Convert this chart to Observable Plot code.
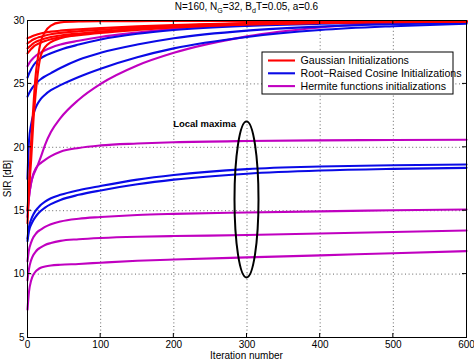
<!DOCTYPE html>
<html>
<head>
<meta charset="utf-8">
<script src="https://cdn.jsdelivr.net/npm/d3@7"></script>
<script src="https://cdn.jsdelivr.net/npm/@observablehq/plot@0.6"></script>
<style>
  html, body { margin: 0; padding: 0; background: #fff; }
  #chart { width: 474px; height: 361px; }
</style>
</head>
<body>
<div id="chart"></div>
<script>
// ---------- data ----------
const iters = [0, 2, 5, 8, 11, 14, 18, 24, 32, 45, 70, 100, 150, 200, 300, 400, 500, 600];

// Gaussian initializations (red)
const gauss1 = [15.0, 17.0, 20.5, 23.2, 25.6, 27.0, 28.3, 29.1, 29.6, 29.85, 29.92, 29.94, 29.95, 29.96, 29.96, 29.96, 29.96, 29.96];
const gauss2 = [14.0, 16.5, 19.0, 22.0, 24.1, 25.8, 27.2, 27.9, 28.3, 28.6, 28.9, 29.1, 29.35, 29.55, 29.75, 29.85, 29.9, 29.93];
const gauss3 = [28.6, 28.65, 28.72, 28.8, 28.86, 28.92, 28.98, 29.05, 29.12, 29.2, 29.3, 29.4, 29.55, 29.65, 29.8, 29.88, 29.92, 29.94];
const gauss4 = [28.2, 28.28, 28.4, 28.5, 28.58, 28.65, 28.72, 28.82, 28.92, 29.02, 29.15, 29.28, 29.45, 29.58, 29.75, 29.85, 29.9, 29.93];
const gauss5 = [27.8, 27.9, 28.05, 28.2, 28.3, 28.38, 28.47, 28.58, 28.7, 28.82, 28.98, 29.12, 29.35, 29.5, 29.7, 29.82, 29.88, 29.92];
const gauss6 = [27.4, 27.55, 27.75, 27.92, 28.05, 28.15, 28.25, 28.38, 28.52, 28.68, 28.85, 29.02, 29.25, 29.45, 29.68, 29.8, 29.87, 29.91];

// Root-raised cosine initializations (blue)
const rrc1 = [25.5, 25.8, 26.15, 26.45, 26.68, 26.85, 27.02, 27.22, 27.42, 27.7, 28.1, 28.5, 28.95, 29.25, 29.58, 29.74, 29.82, 29.86];
const rrc2 = [24.0, 24.25, 24.55, 24.8, 25.0, 25.17, 25.37, 25.6, 25.85, 26.25, 26.9, 27.45, 28.1, 28.6, 29.2, 29.52, 29.7, 29.8];
const rrc3 = [17.5, 20.5, 21.8, 22.6, 23.1, 23.45, 23.8, 24.15, 24.5, 24.9, 25.55, 26.2, 27.1, 27.8, 28.7, 29.25, 29.55, 29.75];
const rrc4 = [12.8, 13.7, 14.3, 14.7, 14.98, 15.2, 15.45, 15.72, 15.98, 16.25, 16.62, 16.95, 17.45, 17.82, 18.28, 18.48, 18.58, 18.64];
const rrc5 = [12.6, 13.4, 13.9, 14.25, 14.52, 14.74, 14.98, 15.25, 15.52, 15.85, 16.25, 16.6, 17.08, 17.45, 17.92, 18.17, 18.3, 18.38];

// Hermite functions initializations (magenta)
const herm1 = [26.4, 26.6, 26.85, 27.05, 27.2, 27.33, 27.47, 27.65, 27.85, 28.1, 28.4, 28.7, 29.05, 29.35, 29.65, 29.8, 29.87, 29.9];
const herm2 = [15.0, 16.1, 17.2, 17.8, 18.2, 18.6, 19.2, 20.2, 21.2, 22.3, 23.75, 25.0, 26.45, 27.45, 28.75, 29.45, 29.8, 29.93];
const herm3 = [14.5, 16.0, 17.2, 17.9, 18.3, 18.55, 18.75, 19.0, 19.3, 19.65, 19.95, 20.15, 20.3, 20.4, 20.5, 20.55, 20.58, 20.6];
const herm4 = [11.0, 11.9, 12.5, 12.9, 13.15, 13.35, 13.5, 13.72, 13.93, 14.15, 14.37, 14.5, 14.66, 14.75, 14.86, 14.95, 15.03, 15.1];
const herm5 = [9.5, 10.4, 11.1, 11.5, 11.75, 11.95, 12.1, 12.3, 12.45, 12.62, 12.75, 12.85, 12.95, 13.0, 13.08, 13.2, 13.32, 13.44];
const herm6 = [7.2, 8.6, 9.5, 9.95, 10.2, 10.35, 10.5, 10.6, 10.68, 10.74, 10.8, 10.9, 11.05, 11.15, 11.32, 11.48, 11.65, 11.81];

const groups = ["Gaussian Initializations", "Root\u2212Raised Cosine Initializations", "Hermite functions initializations"];
const groupColors = ["#ff0000", "#0a0ae6", "#c000c0"];

const xTicks = [0, 100, 200, 300, 400, 500, 600];
const yTicks = [5, 10, 15, 20, 25, 30];

const annotationText = ["Local maxima"];
const annotationPos = [242, 21.85];          // iteration, dB
const ellipseCenter = [300, 15.85];          // iteration, dB
const ellipseRadii = [16.4, 6.15];           // iterations, dB

// ---------- build table ----------
const seriesList = [
  ...[herm1, herm2, herm3, herm4, herm5, herm6].map((v, i) => ({id: "h" + i, group: groups[2], v})),
  ...[rrc1, rrc2, rrc3, rrc4, rrc5].map((v, i) => ({id: "b" + i, group: groups[1], v})),
  ...[gauss3, gauss4, gauss5, gauss6, gauss2, gauss1].map((v, i) => ({id: "g" + i, group: groups[0], v}))
];
const rows = seriesList.flatMap(s => s.v.map((y, j) => ({id: s.id, group: s.group, iter: iters[j], sir: y})));

const font = "Liberation Sans, Arial, Helvetica, sans-serif";
const W = 474, H = 361;

const chart = Plot.plot({
  width: W,
  height: H,
  marginLeft: 27,
  marginRight: 8,
  marginTop: 20,
  marginBottom: 24,
  style: {fontFamily: font, fontSize: "10px", color: "#000", background: "#fff"},
  x: {domain: [0, 600]},
  y: {domain: [5, 30]},
  color: {domain: groups, range: groupColors},
  marks: [
    Plot.gridX(xTicks.slice(1, -1), {stroke: "#666", strokeOpacity: 1, strokeDasharray: "1,2.6", strokeWidth: 1}),
    Plot.gridY(yTicks.slice(1, -1), {stroke: "#666", strokeOpacity: 1, strokeDasharray: "1,2.6", strokeWidth: 1}),
    Plot.line(rows, {x: "iter", y: "sir", z: "id", stroke: "group", strokeWidth: 2.1, curve: "monotone-x"}),
    Plot.axisX({ticks: xTicks, tickSize: 0, tickPadding: 3, label: null}),
    Plot.axisY({ticks: yTicks, tickSize: 0, tickPadding: 3, label: null}),
    Plot.text(annotationText, {x: annotationPos[0], y: annotationPos[1], text: d => d, fontWeight: "bold", fontSize: 9.5, textAnchor: "middle"}),
    Plot.frame({stroke: "#000", strokeWidth: 1})
  ]
});

document.getElementById("chart").appendChild(chart);

const svg = d3.select(chart);
const xs = chart.scale("x"), ys = chart.scale("y");
const x0 = xs.apply(0), x1 = xs.apply(600), y0 = ys.apply(5), y1 = ys.apply(30);

// inward ticks (Matlab style) on all four sides
const tk = svg.append("g").attr("stroke", "#000").attr("stroke-width", 1);
xTicks.slice(1, -1).forEach(t => {
  const px = xs.apply(t);
  tk.append("line").attr("x1", px).attr("x2", px).attr("y1", y0).attr("y2", y0 - 4);
  tk.append("line").attr("x1", px).attr("x2", px).attr("y1", y1).attr("y2", y1 + 4);
});
yTicks.slice(1, -1).forEach(t => {
  const py = ys.apply(t);
  tk.append("line").attr("x1", x0).attr("x2", x0 + 4).attr("y1", py).attr("y2", py);
  tk.append("line").attr("x1", x1).attr("x2", x1 - 4).attr("y1", py).attr("y2", py);
});

// ellipse annotation
svg.append("ellipse")
  .attr("cx", xs.apply(ellipseCenter[0]))
  .attr("cy", ys.apply(ellipseCenter[1]))
  .attr("rx", xs.apply(ellipseCenter[0] + ellipseRadii[0]) - xs.apply(ellipseCenter[0]))
  .attr("ry", ys.apply(ellipseCenter[1] - ellipseRadii[1]) - ys.apply(ellipseCenter[1]))
  .attr("fill", "none").attr("stroke", "#000").attr("stroke-width", 2);

// axis labels
svg.append("text").attr("x", (x0 + x1) / 2).attr("y", H - 2)
  .attr("text-anchor", "middle").attr("font-family", font).attr("font-size", 10)
  .text("Iteration number");
svg.append("text").attr("transform", `translate(11,${(y0 + y1) / 2}) rotate(-90)`)
  .attr("text-anchor", "middle").attr("font-family", font).attr("font-size", 10)
  .text("SIR [dB]");

// title with subscripts
const title = svg.append("text").attr("x", (x0 + x1) / 2).attr("y", 10)
  .attr("text-anchor", "middle").attr("font-family", font).attr("font-size", 10);
title.append("tspan").text("N=160, N");
title.append("tspan").attr("font-size", 7).attr("dy", 3).text("G");
title.append("tspan").attr("dy", -3).text("=32, B");
title.append("tspan").attr("font-size", 7).attr("dy", 3).text("d");
title.append("tspan").attr("dy", -3).text("T=0.05, a=0.6");

// legend
const lg = svg.append("g");
const lgX = 262, lgY = 52, lgW = 191, lgH = 42;
lg.append("rect").attr("x", lgX).attr("y", lgY).attr("width", lgW).attr("height", lgH)
  .attr("fill", "#fff").attr("stroke", "#000").attr("stroke-width", 1);
groups.forEach((g, i) => {
  const cy = lgY + 8.5 + i * 12.8;
  lg.append("line").attr("x1", lgX + 6).attr("x2", lgX + 33).attr("y1", cy).attr("y2", cy)
    .attr("stroke", groupColors[i]).attr("stroke-width", 2.1);
  lg.append("text").attr("x", lgX + 38.5).attr("y", cy + 3.7)
    .attr("text-anchor", "start")
    .attr("font-family", font).attr("font-size", 10.6).text(g);
});
</script>
</body>
</html>
